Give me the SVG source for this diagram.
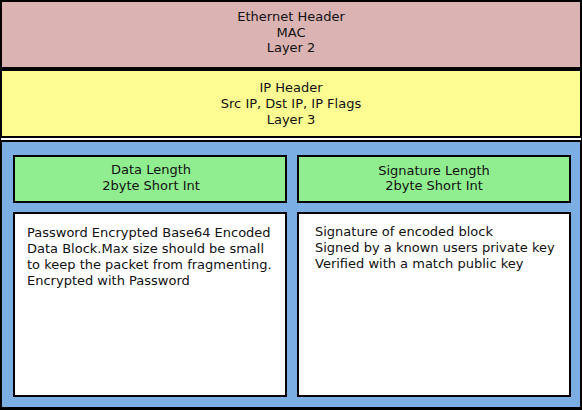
<svg xmlns="http://www.w3.org/2000/svg" width="582" height="410" viewBox="0 0 582 410">
<style>
rect{stroke:#000;stroke-width:2}
text{font-family:"DejaVu Sans",sans-serif;font-size:13px;fill:#111}
.c{text-anchor:middle}
</style>
<rect x="0" y="0" width="582" height="410" fill="#fff" stroke="none"/>
<g id="ethernet">
<rect x="1" y="1" width="580" height="67" fill="#dbb3b3"/>
<text class="c" x="291" y="21">Ethernet Header</text>
<text class="c" x="291" y="37">MAC</text>
<text class="c" x="291" y="52">Layer 2</text>
</g>
<g id="ip">
<rect x="1" y="70" width="580" height="67" fill="#fcfc92"/>
<text class="c" x="291" y="92">IP Header</text>
<text class="c" x="291" y="108">Src IP, Dst IP, IP Flags</text>
<text class="c" x="291" y="124">Layer 3</text>
</g>
<g id="payload">
<rect x="1" y="141" width="580" height="267" fill="#7bafe3"/>
</g>
<g id="datalen">
<rect x="14" y="156" width="272" height="46" fill="#90ee90"/>
<text class="c" x="151" y="174">Data Length</text>
<text class="c" x="151" y="190">2byte Short Int</text>
</g>
<g id="siglen">
<rect x="298" y="156" width="272" height="46" fill="#90ee90"/>
<text class="c" x="434" y="175">Signature Length</text>
<text class="c" x="434" y="190">2byte Short Int</text>
</g>
<g id="datablock">
<rect x="14" y="213" width="272" height="183" fill="#fff"/>
<text x="27" y="237">Password Encrypted Base64 Encoded</text>
<text x="27" y="253">Data Block.Max size should be small</text>
<text x="27" y="269">to keep the packet from fragmenting.</text>
<text x="27" y="285">Encrypted with Password</text>
</g>
<g id="signature">
<rect x="298" y="213" width="272" height="183" fill="#fff"/>
<text x="315" y="236">Signature of encoded block</text>
<text x="315" y="252">Signed by a known users private key</text>
<text x="315" y="268">Verified with a match public key</text>
</g>
<g id="connectors"/>
</svg>
